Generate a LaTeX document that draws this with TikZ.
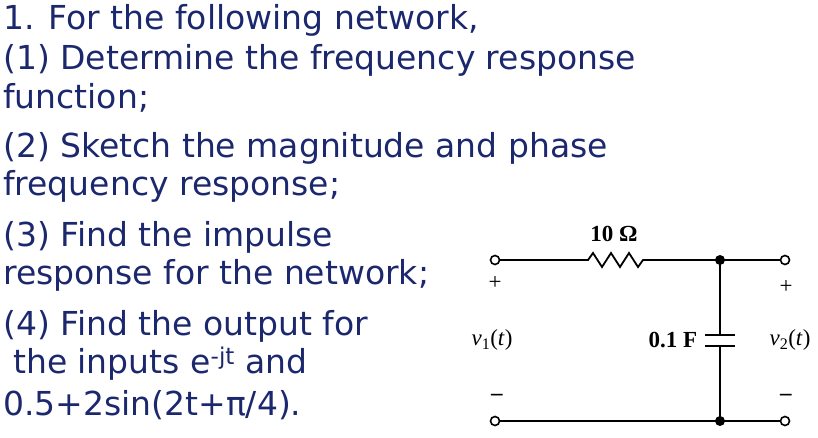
\documentclass[tikz,border=0pt]{standalone}
\usepackage{fontspec}
\setmainfont{DejaVu Sans}
\newfontfamily\ckt{Liberation Serif}
\definecolor{txt}{RGB}{28,40,110}
\begin{document}
\begin{tikzpicture}[x=1pt,y=-1pt,
  q/.style={anchor=west,inner sep=0pt,text=txt,font=\fontsize{33}{34}\selectfont},
  cl/.style={inner sep=0pt,font=\ckt\fontsize{23}{24}\selectfont},
  term/.style={circle,draw,line width=1.6pt,fill=white,inner sep=0pt,minimum size=9pt},
  dot/.style={circle,fill,inner sep=0pt,minimum size=10pt},
  w/.style={line width=1.8pt}]
\useasboundingbox (0,0) rectangle (818,438);
\node[q] (l1) at (3,20) {1. For the following network,};
\node[q] (l2) at (3,60) {(1) Determine the frequency response};
\node[q] (l3) at (3,98) {function;};
\node[q] (l4) at (3,148) {(2) Sketch the magnitude and phase};
\node[q] (l5) at (3,186) {frequency response;};
\node[q] (l6) at (3,237) {(3) Find the impulse};
\node[q] (l7) at (3,275) {response for the network;};
\node[q] (l8) at (3,326) {(4) Find the output for};
\node[q] (l9) at (13,364) {the inputs e\textsuperscript{-jt} and};
\node[q] (l10) at (3,405) {0.5+2sin(2t+π/4).};
% circuit
\coordinate (r1) at (588,260);
\coordinate (r2) at (643,260);
\coordinate (p1) at (720,335);
\coordinate (p2) at (720,346);
\draw[w] (495,260) -- (r1) -- ++(5,-7) -- ++(9,14) -- ++(9,-14) -- ++(9,14) -- ++(9,-14) -- ++(9,14) -- ++(5,-7) -- (r2) -- (785,260);
\draw[w] (495,421) -- (785,421);
\draw[w] (720,260) -- (p1) (p2) -- (720,421);
\draw[line width=2.4pt] (705,335) -- (735,335) (705,346) -- (735,346);
\node[term] (a) at (495,260) {};
\node[term] (b) at (495,421) {};
\node[term] (c) at (785,260) {};
\node[term] (d) at (785,421) {};
\node[dot] (n1) at (720,260) {};
\node[dot] (n2) at (720,421) {};
\node[cl] (rl) at (614,234) {\textbf{10 Ω}};
\node[cl] (pl) at (495,283) {+};
\node[cl] (ml) at (497,397) {\textbf{–}};
\node[cl] (v1) at (492,340) {\textit{v}\textsubscript{1}(\textit{t})};
\node[cl] (cap) at (673,340) {\textbf{0.1 F}};
\node[cl] (v2) at (790,340) {\textit{v}\textsubscript{2}(\textit{t})};
\node[cl] (pr) at (786,287) {+};
\node[cl] (mr) at (786,397) {\textbf{–}};
\end{tikzpicture}
\end{document}
